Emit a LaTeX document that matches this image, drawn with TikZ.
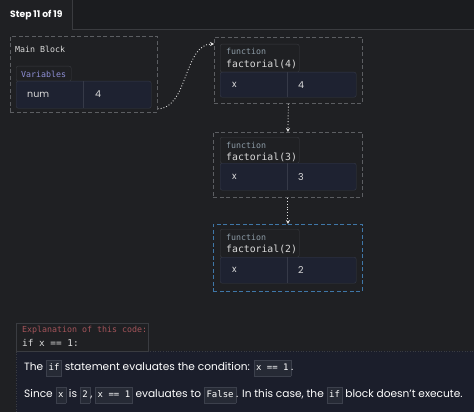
\documentclass[tikz,border=0pt]{standalone}
\usepackage{fontspec}
\setmainfont{Poppins}
\setmonofont{DejaVu Sans Mono}
\usetikzlibrary{arrows.meta,positioning}

\definecolor{pagebg}{HTML}{1F2023}
\definecolor{headbg}{HTML}{1B1C1F}
\definecolor{headline}{HTML}{3A3B3F}
\definecolor{framegray}{HTML}{5C5E62}
\definecolor{activeblue}{HTML}{3F77A8}
\definecolor{tabline}{HTML}{3A3C41}
\definecolor{rowfill}{HTML}{1E2231}
\definecolor{rowline}{HTML}{363A48}
\definecolor{vartext}{HTML}{8E8FD6}
\definecolor{fntext}{HTML}{8C9BA6}
\definecolor{lighttext}{HTML}{DADADA}
\definecolor{expred}{HTML}{A4545A}
\definecolor{panelbg}{HTML}{1B1E2B}
\definecolor{codefill}{HTML}{262A35}
\definecolor{codeline}{HTML}{3C404C}

\newcommand{\ic}[1]{{\setlength{\fboxsep}{2pt}\setlength{\fboxrule}{0.5pt}\fcolorbox{codeline}{codefill}{\strut\ttfamily\fontsize{9}{10}\selectfont #1}}}

\begin{document}
\begin{tikzpicture}[
  x=1pt, y=-1pt,
  >={Stealth[length=4pt,width=4pt]},
  frame/.style={draw=framegray,dash pattern=on 4pt off 2.5pt,line width=0.8pt,anchor=north west,inner sep=0pt},
  tabbox/.style={draw=tabline,fill=pagebg,rounded corners=2pt,anchor=north west,inner sep=0pt},
  rowbox/.style={draw=rowline,fill=rowfill,rounded corners=2pt,anchor=north west,inner sep=0pt},
  mono/.style={anchor=west,inner sep=0pt,font=\ttfamily\fontsize{8.3}{9}\selectfont,text=lighttext},
  fnname/.style={anchor=west,inner sep=0pt,font=\ttfamily\fontsize{9.8}{11}\selectfont,text=lighttext},
  cell/.style={anchor=west,inner sep=0pt,font=\fontsize{9.5}{11}\selectfont,text=lighttext},
  flow/.style={->,draw=lighttext!75,dotted,line width=0.9pt},
  body/.style={anchor=west,inner sep=0pt,font=\fontsize{10.6}{12}\selectfont,text=white}
]
\fill[pagebg] (0,0) rectangle (474,412);
\useasboundingbox (0,0) rectangle (474,412);
% header tab
\fill[headbg] (72,0) rectangle (474,29);
\draw[headline,line width=0.6pt] (72,0) -- (72,29) -- (474,29);
\node[anchor=west,inner sep=0pt,text=white,font=\bfseries\fontsize{9.2}{11}\selectfont] (step) at (10,15) {Step 11 of 19};

% main block
\node[frame,minimum width=147,minimum height=76] (main) at (10,36) {};
\node[mono] (mainlbl) at (15,49) {Main Block};
\node[tabbox,minimum width=55,minimum height=15] (vartab) at (16,66) {};
\node[mono,text=vartext] (varlbl) at (21,74) {Variables};
\node[rowbox,minimum width=135,minimum height=27] (mainrow) at (16,81) {};
\draw[rowline] (83,81) -- (83,108);
\node[cell] (numname) at (27,94.5) {num};
\node[cell] (numval) at (95,94.5) {4};

% factorial(4)
\node[frame,minimum width=148,minimum height=66] (f4) at (214,37) {};
\node[tabbox,minimum width=79,minimum height=28] (f4tab) at (220,44) {};
\node[mono,text=fntext] (f4kind) at (226,51) {function};
\node[fnname] (f4name) at (226,64) {factorial(4)};
\node[rowbox,minimum width=136,minimum height=25] (f4row) at (220,72) {};
\draw[rowline] (287,72) -- (287,97);
\node[cell] (f4x) at (232,85) {x};
\node[cell] (f4v) at (298,85) {4};

% factorial(3)
\node[frame,minimum width=149,minimum height=65] (f3) at (213,132) {};
\node[tabbox,minimum width=79,minimum height=26] (f3tab) at (220,137) {};
\node[mono,text=fntext] (f3kind) at (226,145) {function};
\node[fnname] (f3name) at (226,157) {factorial(3)};
\node[rowbox,minimum width=136,minimum height=27] (f3row) at (220,163) {};
\draw[rowline] (287,163) -- (287,190);
\node[cell] (f3x) at (232,177) {x};
\node[cell] (f3v) at (298,177) {3};

% factorial(2), current frame
\node[frame,draw=activeblue,minimum width=149,minimum height=67] (f2) at (213,224) {};
\node[tabbox,minimum width=79,minimum height=28] (f2tab) at (220,229) {};
\node[mono,text=fntext] (f2kind) at (226,237) {function};
\node[fnname] (f2name) at (226,249) {factorial(2)};
\node[rowbox,minimum width=136,minimum height=26] (f2row) at (220,257) {};
\draw[rowline] (287,257) -- (287,283);
\node[cell] (f2x) at (232,270) {x};
\node[cell] (f2v) at (298,270) {2};

% call arrows
\draw[flow] ([yshift=4pt]main.south east) .. controls +(30,0) and +(-30,0) .. ([yshift=-7pt]f4.north west);
\draw[flow] (f4.south) -- (f3.north);
\draw[flow] (f3.south) -- (f2.north);

% explanation
\fill[panelbg] (16,351) rectangle (474,412);
\draw[tabline,dotted,line width=0.6pt] (16,412) -- (16,351) -- (474,351);
\node[tabbox,rounded corners=0pt,minimum width=132,minimum height=28] (exptab) at (16,323) {};
\node[mono,text=expred] (explbl) at (22,330) {Explanation of this code:};
\node[fnname,font=\ttfamily\fontsize{9.4}{10}\selectfont] (expcode) at (22,343) {if x == 1:};
\node[body] (line1) at (24,368) {The \ic{if} statement evaluates the condition: \ic{x == 1}.};
\node[body] (line2) at (24,395) {Since \ic{x} is \ic{2}, \ic{x == 1} evaluates to \ic{False}. In this case, the \ic{if} block doesn't execute.};
\end{tikzpicture}
\end{document}
